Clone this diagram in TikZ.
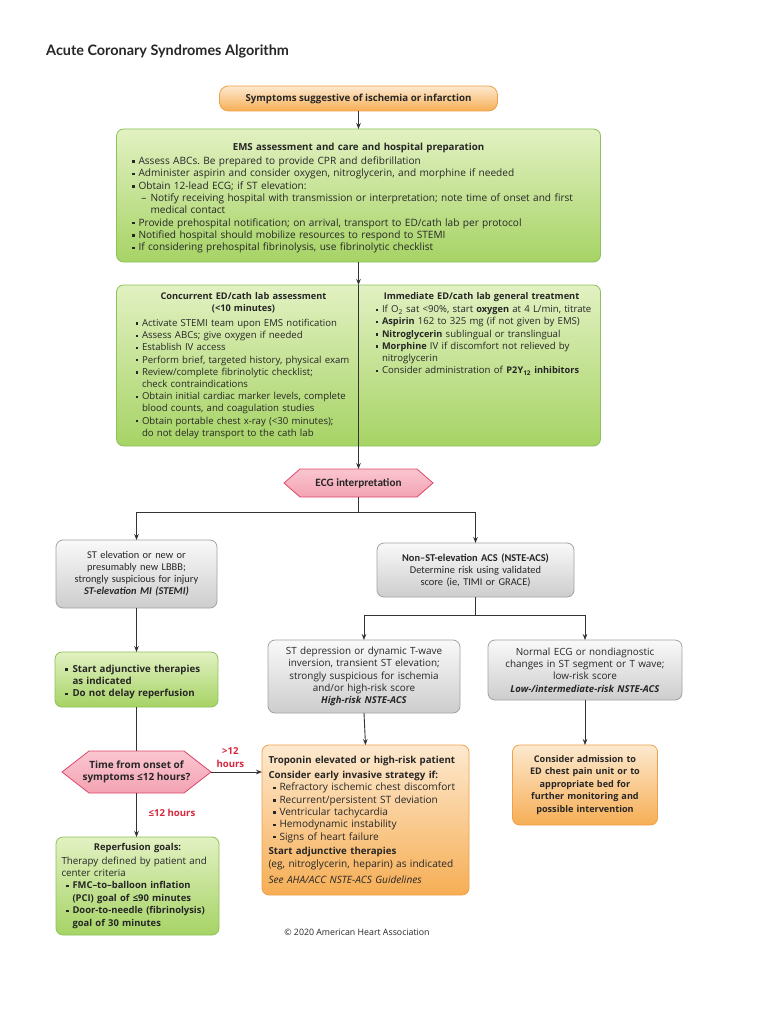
\documentclass[tikz,border=0pt]{standalone}
\usepackage{fontspec}
\setmainfont{Open Sans}[BoldFeatures={Scale=0.96},BoldItalicFeatures={Scale=0.96}]
\newfontfamily\grayfont{Carlito}
\newfontfamily\titlefont{Lato}
\usepackage{enumitem}
\usetikzlibrary{arrows.meta}
\pgfdeclarelayer{background}
\pgfsetlayers{background,main}
\hyphenpenalty=10000
\exhyphenpenalty=10000
\frenchspacing
\definecolor{gtop}{HTML}{E2F1C2}
\definecolor{gbot}{HTML}{A6D365}
\definecolor{gline}{HTML}{8CC257}
\definecolor{otop}{HTML}{FDE9CF}
\definecolor{obot}{HTML}{F6AE55}
\definecolor{oline}{HTML}{EFA048}
\definecolor{graytop}{HTML}{F9F9F9}
\definecolor{graybot}{HTML}{CDCDCD}
\definecolor{grayline}{HTML}{A3A3A3}
\definecolor{pinktop}{HTML}{FAC6D0}
\definecolor{pinkbot}{HTML}{F3A2B3}
\definecolor{pinkline}{HTML}{D9486A}
\definecolor{redlab}{HTML}{D7263D}
\definecolor{txt}{HTML}{262626}
\definecolor{lineclr}{HTML}{333333}
\newcommand\bul{\raisebox{0.3ex}{\rule{2.5pt}{2.5pt}}}
\setlist[itemize]{nosep,label=\bul,labelsep=4pt,leftmargin=9pt}
\begin{document}
\begin{tikzpicture}[x=1pt,y=-1pt,
  every node/.style={text=txt, font=\fontsize{10.1}{12.3}\selectfont},
  box/.style={rounded corners=7pt, line width=0.8pt, inner sep=0pt, outer sep=0pt},
  greenbox/.style={box, draw=gline, top color=gtop, bottom color=gbot},
  orangebox/.style={box, draw=oline, top color=otop, bottom color=obot},
  graybox/.style={box, draw=grayline, top color=graytop, bottom color=graybot, align=center},
  grayc/.style={font=\grayfont\fontsize{10.4}{12.1}\selectfont},
  hexbox/.style={inner sep=0pt, outer sep=0pt, align=center},
  hexdraw/.style={draw=pinkline, line width=0.8pt, top color=pinktop, bottom color=pinkbot},
  txtnode/.style={inner sep=0pt, outer sep=0pt, align=left},
  conn/.style={draw=lineclr, line width=0.9pt},
  arr/.style={conn, -{Stealth[length=6pt,width=4.6pt]}},
  lab/.style={text=redlab, font=\bfseries\fontsize{10}{12.5}\selectfont, align=center, inner sep=0pt}
]
\useasboundingbox (0,0) rectangle (768,1024);
\begin{pgfonlayer}{background}
\fill[white] (0,0) rectangle (768,1024);
\end{pgfonlayer}

% title
\node[anchor=west, inner sep=0pt, font=\titlefont\bfseries\fontsize{14.4}{18}\selectfont] (title) at (46,51) {Acute Coronary Syndromes Algorithm};

% symptoms
\node[orangebox, rounded corners=9pt, minimum width=278pt, minimum height=25pt, font=\bfseries\fontsize{10.1}{12}\selectfont] (sym) at (358.5,98.5) {Symptoms suggestive of ischemia or infarction};

% EMS
\node[greenbox, minimum width=484pt, minimum height=133pt, text width=466pt, align=left] (ems) at (358.5,195.5) {%
{\centering\bfseries EMS assessment and care and hospital preparation\par}\vspace{2pt}
\begin{itemize}[leftmargin=13pt]
\item Assess ABCs. Be prepared to provide CPR and defibrillation
\item Administer aspirin and consider oxygen, nitroglycerin, and morphine if needed
\item Obtain 12-lead ECG; if ST elevation:
  \begin{itemize}[label=--,leftmargin=12pt,labelsep=4pt]
  \item Notify receiving hospital with transmission or interpretation; note time of onset and first\newline medical contact
  \end{itemize}
\item Provide prehospital notification; on arrival, transport to ED/cath lab per protocol
\item Notified hospital should mobilize resources to respond to STEMI
\item If considering prehospital fibrinolysis, use fibrinolytic checklist
\end{itemize}\par\vspace{-5pt}};

% concurrent box
\node[greenbox, minimum width=484pt, minimum height=161pt] (cc) at (358.5,365.5) {};
\draw[conn] (cc.north) -- (cc.south);
\node[txtnode, text width=225pt, anchor=north west, font=\fontsize{9.6}{12.2}\selectfont] (ccl) at (131,292) {%
{\centering\bfseries Concurrent ED/cath lab assessment\\(<10 minutes)\par}\vspace{3pt}
\begin{itemize}[leftmargin=11pt]
\item Activate STEMI team upon EMS notification
\item Assess ABCs; give oxygen if needed
\item Establish IV access
\item Perform brief, targeted history, physical exam
\item Review/complete fibrinolytic checklist;\newline check contraindications
\item Obtain initial cardiac marker levels, complete\newline blood counts, and coagulation studies
\item Obtain portable chest x-ray (<30 minutes);\newline do not delay transport to the cath lab
\end{itemize}};
\node[txtnode, text width=229pt, anchor=north west, font=\fontsize{9.6}{12.2}\selectfont] (ccr) at (367,292) {%
{\centering\bfseries Immediate ED/cath lab general treatment\par}\vspace{1.5pt}
\begin{itemize}[leftmargin=15pt]
\item If O\textsubscript{2} sat <90\%, start \textbf{oxygen} at 4 L/min, titrate
\item \textbf{Aspirin} 162 to 325 mg (if not given by EMS)
\item \textbf{Nitroglycerin} sublingual or translingual
\item \textbf{Morphine} IV if discomfort not relieved by\newline nitroglycerin
\item Consider administration of \textbf{P2Y\textsubscript{12} inhibitors}
\end{itemize}};

% ECG hexagon
\node[hexbox, minimum width=149pt, minimum height=28pt, font=\grayfont\bfseries\fontsize{11.2}{12}\selectfont] (ecg) at (358.5,483) {ECG interpretation};
\begin{pgfonlayer}{background}
\path[hexdraw] (ecg.west) -- ++(16,-14) -- ++(117,0) -- ++(16,14) -- ++(-16,14) -- ++(-117,0) -- cycle;
\end{pgfonlayer}

% gray boxes
\node[graybox, grayc, minimum width=161pt, minimum height=68pt, text width=157pt] (stemi) at (136.5,574) {ST elevation or new or\\presumably new LBBB;\\strongly suspicious for injury\\\textbf{\textit{ST-elevation MI (STEMI)}}};
\node[graybox, grayc, minimum width=197pt, minimum height=54pt, text width=192pt] (nste) at (475.5,570) {\textbf{Non–ST-elevation ACS (NSTE-ACS)}\\Determine risk using validated\\score (ie, TIMI or GRACE)};
\node[graybox, font=\fontsize{9.9}{12.4}\selectfont, minimum width=192pt, minimum height=73pt, text width=188pt] (hr) at (364,676.5) {ST depression or dynamic T-wave\\inversion, transient ST elevation;\\strongly suspicious for ischemia\\and/or high-risk score\\\textbf{\textit{High-risk NSTE-ACS}}};
\node[graybox, font=\fontsize{9.9}{12.4}\selectfont, minimum width=194pt, minimum height=60pt, text width=190pt] (lr) at (585,670) {Normal ECG or nondiagnostic\\changes in ST segment or T wave;\\low-risk score\\\textbf{\textit{Low-/intermediate-risk NSTE-ACS}}};

% left column
\node[greenbox, minimum width=163pt, minimum height=55pt, text width=148pt, align=left, font=\bfseries\fontsize{10.1}{12.2}\selectfont] (start) at (136.5,679.5) {%
\begin{itemize}[leftmargin=10pt,labelsep=5pt]
\item Start adjunctive therapies\newline as indicated
\item Do not delay reperfusion
\end{itemize}};

\node[hexbox, minimum width=149pt, minimum height=42pt, font=\bfseries\fontsize{10.4}{11.4}\selectfont] (time) at (136.5,772) {Time from onset of\\symptoms ≤12 hours?};
\begin{pgfonlayer}{background}
\path[hexdraw] (time.west) -- ++(27,-21) -- ++(95,0) -- ++(27,21) -- ++(-27,21) -- ++(-95,0) -- cycle;
\end{pgfonlayer}

\node[greenbox, minimum width=163pt, minimum height=98pt, text width=152pt, align=left, font=\fontsize{9.8}{12.4}\selectfont] (rep) at (137.5,886) {%
{\centering\bfseries Reperfusion goals:\par}\vspace{1pt}
Therapy defined by patient and\newline center criteria\par
\begin{itemize}[leftmargin=11pt,labelsep=4pt]
\item \textbf{FMC–to–balloon inflation\newline (PCI) goal of ≤90 minutes}
\item \textbf{Door-to-needle (fibrinolysis)\newline goal of 30 minutes}
\end{itemize}};

% orange boxes
\node[orangebox, minimum width=207pt, minimum height=150pt, text width=194pt, align=left] (trop) at (365.5,820) {%
\textbf{Troponin elevated or high-risk patient}\par\vspace{2.5pt}
\textbf{Consider early invasive strategy if:}\par
\begin{itemize}[leftmargin=11pt,labelsep=4pt]
\item Refractory ischemic chest discomfort
\item Recurrent/persistent ST deviation
\item Ventricular tachycardia
\item Hemodynamic instability
\item Signs of heart failure
\end{itemize}\vspace{2.5pt}
\textbf{Start adjunctive therapies}\par
(eg, nitroglycerin, heparin) as indicated\par\vspace{4pt}
\textit{See AHA/ACC NSTE-ACS Guidelines}};

\node[orangebox, minimum width=145pt, minimum height=80pt, text width=142pt, align=center, font=\bfseries\fontsize{9.5}{12.4}\selectfont] (adm) at (585,785) {Consider admission to\\ED chest pain unit or to\\appropriate bed for\\further monitoring and\\possible intervention};

% copyright
\node[inner sep=0pt, font=\fontsize{8.8}{10}\selectfont] (copy) at (357,932) {© 2020 American Heart Association};

% connectors
\coordinate (j1) at (358.5,512);
\coordinate (j2) at (475.5,615);
\draw[arr] (sym.south) -- (ems.north);
\draw[arr] (ems.south) -- (cc.north);
\draw[arr] (cc.south) -- (ecg.north);
\draw[conn] (ecg.south) -- (j1);
\draw[arr] (j1) -| (stemi.north);
\draw[arr] (j1) -| (nste.north);
\draw[conn] (nste.south) -- (j2);
\draw[arr] (j2) -| (hr.north);
\draw[arr] (j2) -| (lr.north);
\draw[arr] (stemi.south) -- (start.north);
\draw[conn] (start.south) -- (time.north);
\draw[arr] (time.south) -- (rep.north -| time.south);
\draw[arr] (time.east) -- node[lab, above=4pt, pos=0.38] (gt) {>12\\hours} (time.east -| trop.west);
\draw[arr] (hr.south) -- (trop.north);
\draw[arr] (lr.south) -- (adm.north);
\node[lab] (le) at (172,813) {≤12 hours};
\end{tikzpicture}
\end{document}
